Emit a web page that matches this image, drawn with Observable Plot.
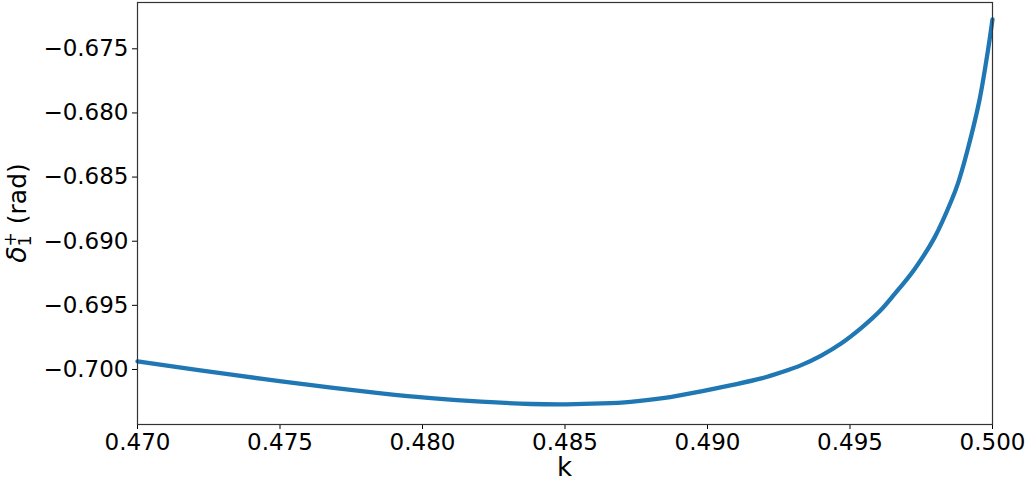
<!DOCTYPE html>
<html>
<head>
<meta charset="utf-8">
<script src="https://cdn.jsdelivr.net/npm/d3@7"></script>
<script src="https://cdn.jsdelivr.net/npm/@observablehq/plot@0.6"></script>
<style>
  html, body { margin: 0; padding: 0; background: #fff; }
  #chart svg { display: block; }
</style>
</head>
<body>
<div id="chart"></div>
<script>
const kValues = [
  0.47000, 0.47165, 0.47330, 0.47505, 0.47680, 0.47855, 0.48030, 0.48205, 0.48380, 0.48505,
  0.48630, 0.48730, 0.48850, 0.48978, 0.49080, 0.49189, 0.49259, 0.49329, 0.49399, 0.49470,
  0.49540, 0.49604, 0.49657, 0.49727, 0.49797, 0.49856, 0.49880, 0.49912, 0.49954, 0.49984,
  0.50000
];
const deltaValues = [
  -0.69937, -0.69990, -0.70041, -0.70093, -0.70142, -0.70186, -0.70223, -0.70251, -0.70269, -0.70272,
  -0.70265, -0.70252, -0.70222, -0.70170, -0.70124, -0.70070, -0.70022, -0.69966, -0.69892, -0.69796,
  -0.69676, -0.69547, -0.69411, -0.69216, -0.68970, -0.68683, -0.68541, -0.68293, -0.67903, -0.67513,
  -0.67270
];
const xTicks = [0.470, 0.475, 0.480, 0.485, 0.490, 0.495, 0.500];
const yTicks = [-0.700, -0.695, -0.690, -0.685, -0.680, -0.675];

const data = kValues.map((k, i) => ({k, d: deltaValues[i]}));

const W = 1025, H = 483;
const mL = 137, mR = 33, mT = 2, mB = 59;

const plot = Plot.plot({
  width: W,
  height: H,
  marginLeft: mL,
  marginRight: mR,
  marginTop: mT,
  marginBottom: mB,
  style: {fontSize: "23px", fontFamily: "DejaVu Sans", background: "#fff", color: "#000"},
  x: {domain: [0.470, 0.500], ticks: xTicks, tickFormat: d3.format(".3f"), label: null, tickSize: 5, tickPadding: 4},
  y: {domain: [-0.70429, -0.67139], ticks: yTicks, tickFormat: d3.format(".3f"), label: null, tickSize: 5, tickPadding: 4},
  marks: [
    Plot.line(data, {x: "k", y: "d", stroke: "#1f77b4", strokeWidth: 4.3, curve: "catmull-rom"}),
    Plot.frame({stroke: "#333", strokeWidth: 1.2})
  ]
});

const svg = d3.select(plot);
// x label
svg.append("text")
  .attr("x", mL + (W - mL - mR) / 2)
  .attr("y", 476)
  .attr("text-anchor", "middle")
  .attr("font-family", "DejaVu Sans")
  .attr("font-size", "26px")
  .attr("fill", "#000")
  .text("k");
// y label with sub/superscript
const yl = svg.append("text")
  .attr("transform", `translate(26,${mT + (H - mT - mB) / 2}) rotate(-90)`)
  .attr("text-anchor", "middle")
  .attr("font-family", "DejaVu Sans")
  .attr("font-size", "25px")
  .attr("fill", "#000");
yl.append("tspan").attr("font-style", "italic").attr("font-size", "27px").text("δ");
yl.append("tspan").attr("font-size", "17px").attr("dy", "5").text("1");
yl.append("tspan").attr("font-size", "17px").attr("dx", "-11").attr("dy", "-15").text("+");
yl.append("tspan").attr("dy", "10").text(" (rad)");

document.getElementById("chart").appendChild(plot);
</script>
</body>
</html>
